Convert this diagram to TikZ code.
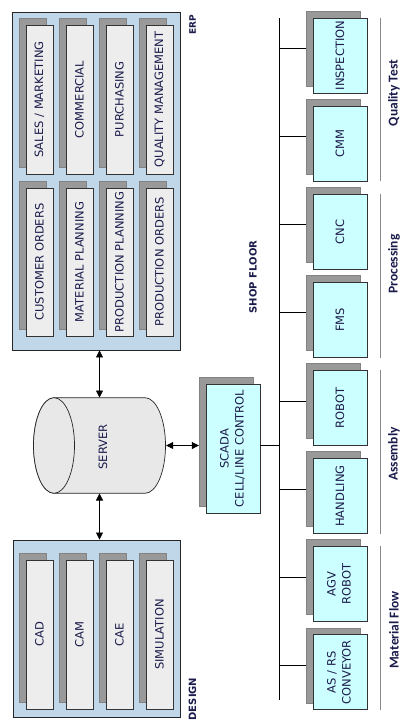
\documentclass[tikz,border=0pt]{standalone}
\usepackage{fontspec}
\usepackage{graphicx}
\setmainfont{DejaVu Sans}
\newfontfamily\grpfont{Carlito}
\usetikzlibrary{arrows.meta,calc}
\definecolor{outerblue}{HTML}{BFD7E8}
\definecolor{innergray}{HTML}{EDEDED}
\definecolor{shadowgray}{HTML}{999999}
\definecolor{shopcyan}{HTML}{CCFFFF}
\definecolor{txtnavy}{HTML}{1C1C4C}
\definecolor{servergray}{HTML}{E8E8E8}
\definecolor{grpline}{HTML}{8A8A8A}
\newcommand{\boxpair}[5]{%
  \node[#2, shadowbox] (#1-s) at ($(#3,#4)+(-7,-7)$) {};
  \node[#2] (#1) at (#3,#4) {\rotatebox{90}{#5}};
}
\newcommand{\twolines}[2]{\begin{tabular}{@{}c@{}}#1\\#2\end{tabular}}
\begin{document}
\begin{tikzpicture}[x=1pt,y=-1pt,
  outerbox/.style={draw=black!85, line width=0.9pt, fill=outerblue, inner sep=0},
  shadowbox/.style={fill=shadowgray, draw=shadowgray!85!black, line width=0.3pt},
  itembox/.style={draw=black!80, line width=0.6pt, fill=innergray, inner sep=0,
    minimum width=27pt, text=txtnavy, font=\fontsize{11.5}{15}\selectfont},
  shopbox/.style={draw=black!80, line width=0.6pt, fill=shopcyan, inner sep=0,
    minimum width=54pt, minimum height=75pt, text=txtnavy, font=\fontsize{11.5}{15}\selectfont},
  titlelbl/.style={inner sep=0, text=txtnavy, font=\bfseries\fontsize{9}{11}\selectfont},
  grouplbl/.style={inner sep=0, text=txtnavy, font=\grpfont\bfseries\fontsize{13.5}{15}\selectfont},
  biarrow/.style={{Triangle[length=7pt,width=7pt]}-{Triangle[length=7pt,width=7pt]}, line width=0.7pt, black},
  busline/.style={line width=0.8pt, black},
  groupline/.style={line width=0.7pt, grpline},
]
\useasboundingbox (0,0) rectangle (409,726);
\fill[white] (0,0) rectangle (409,726);

% ---------------- ERP ----------------
\node[outerbox, minimum width=167.3pt, minimum height=338pt] (erp) at (96.35,181) {};
\node[titlelbl] (erplbl) at (192.5,25) {\rotatebox{90}{ERP}};
\boxpair{sales}{itembox, minimum height=149pt}{39.5}{99.5}{SALES / MARKETING}
\boxpair{comm}{itembox, minimum height=149pt}{79.5}{99.5}{COMMERCIAL}
\boxpair{purch}{itembox, minimum height=149pt}{119.5}{99.5}{PURCHASING}
\boxpair{qm}{itembox, minimum height=149pt}{159.5}{99.5}{QUALITY MANAGEMENT}
\boxpair{cust}{itembox, minimum height=148pt}{39.5}{262}{CUSTOMER ORDERS}
\boxpair{matp}{itembox, minimum height=148pt}{79.5}{262}{MATERIAL PLANNING}
\boxpair{prodp}{itembox, minimum height=148pt}{119.5}{262}{PRODUCTION PLANNING}
\boxpair{prodo}{itembox, minimum height=148pt}{159.5}{262}{PRODUCTION ORDERS}

% ---------------- DESIGN ----------------
\node[outerbox, minimum width=167pt, minimum height=177pt] (design) at (96.5,628.5) {};
\node[titlelbl, font=\bfseries\fontsize{10}{12}\selectfont] (designlbl) at (192.5,699) {\rotatebox{90}{DESIGN}};
\boxpair{cad}{itembox, minimum height=149pt}{39.5}{634.5}{CAD}
\boxpair{cam}{itembox, minimum height=149pt}{79.5}{634.5}{CAM}
\boxpair{cae}{itembox, minimum height=149pt}{119.5}{634.5}{CAE}
\boxpair{sim}{itembox, minimum height=149pt}{159.5}{634.5}{SIMULATION}

% ---------------- SERVER ----------------
\node[minimum width=133pt, minimum height=95.6pt, inner sep=0] (server) at (99.5,445.5) {};
\filldraw[fill=servergray, draw=black!85, line width=0.7pt]
  (54,397.7) -- (145,397.7)
  arc[start angle=-90, end angle=90, x radius=20.5, y radius=47.8]
  -- (54,493.3)
  arc[start angle=90, end angle=270, x radius=20.5, y radius=47.8] -- cycle;
\draw[fill=servergray, draw=black!85, line width=0.7pt] (54,445.5) ellipse [x radius=20.5, y radius=47.8];
\node[inner sep=0, text=txtnavy, font=\fontsize{11.5}{14}\selectfont] (serverlbl) at (103,447) {\rotatebox{90}{SERVER}};

% ---------------- SCADA ----------------
\boxpair{scada}{shopbox, minimum height=129pt}{233}{448.5}{\twolines{SCADA}{CELL/LINE CONTROL}}

% ---------------- SHOP FLOOR ----------------
\node[titlelbl, font=\bfseries\fontsize{10}{12}\selectfont] (shoplbl) at (253,277) {\rotatebox{90}{SHOP FLOOR}};
\boxpair{insp}{shopbox}{340}{55.5}{INSPECTION}
\boxpair{cmm}{shopbox}{340}{143.6}{CMM}
\boxpair{cnc}{shopbox}{340}{231.7}{CNC}
\boxpair{fms}{shopbox}{340}{319.8}{FMS}
\boxpair{robot}{shopbox}{340}{407.9}{ROBOT}
\boxpair{handl}{shopbox}{340}{496}{HANDLING}
\boxpair{agv}{shopbox}{340}{584.1}{\twolines{AGV}{ROBOT}}
\boxpair{asrs}{shopbox}{340}{672.2}{\twolines{AS / RS}{CONVEYOR}}

\coordinate (bustop) at (279,18);
\coordinate (busbot) at (279,700);
\draw[busline] (bustop) -- (busbot);
\foreach \n in {insp,cmm,cnc,fms,robot,handl,agv,asrs}{
  \draw[busline] (bustop |- \n-s.west) -- (\n-s.west);
}
\draw[busline] (scada.east |- server.east) -- (bustop |- server.east);

% group lines and labels
\coordinate (gx) at (380,0);
\draw[groupline] (insp.north -| gx) -- (cmm.south -| gx);
\draw[groupline] (cnc.north -| gx) -- (fms.south -| gx);
\draw[groupline] (robot.north -| gx) -- (handl.south -| gx);
\draw[groupline] (agv.north -| gx) -- (asrs.south -| gx);
\node[grouplbl] (qtlbl) at (394,93) {\rotatebox{90}{Quality Test}};
\node[grouplbl] (proclbl) at (394,264) {\rotatebox{90}{Processing}};
\node[grouplbl] (asmlbl) at (394,454) {\rotatebox{90}{Assembly}};
\node[grouplbl] (mflbl) at (394,630) {\rotatebox{90}{Material Flow}};

% ---------------- ARROWS ----------------
\draw[biarrow] (server.north |- erp.south) -- (server.north);
\draw[biarrow] (server.south) -- (server.south |- design.north);
\draw[biarrow] (server.east) -- (server.east -| scada-s.west);
\end{tikzpicture}
\end{document}
